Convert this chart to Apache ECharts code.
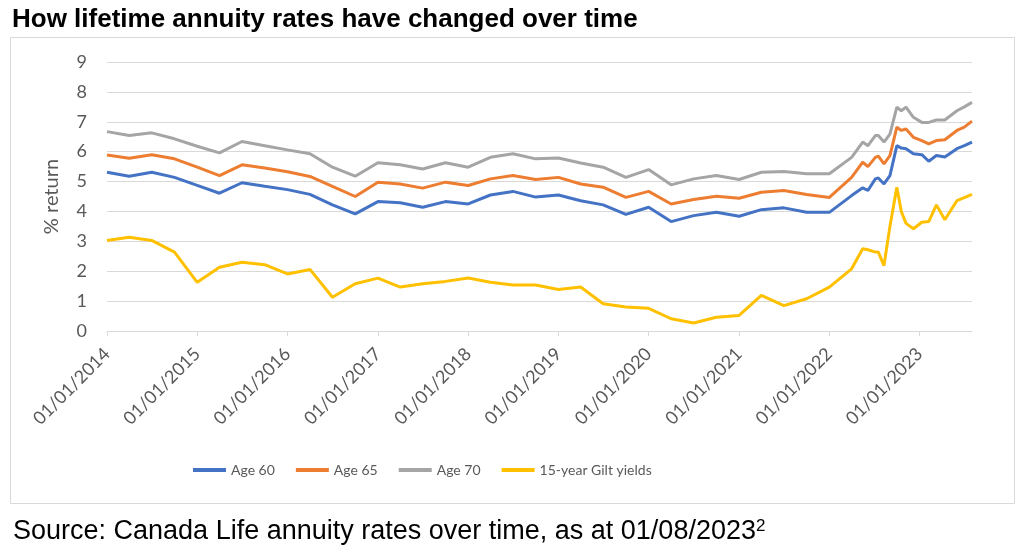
<!DOCTYPE html>
<html lang="en">
<head>
    <meta charset="UTF-8">
    <title>Lifetime annuity rates</title>
    <script type="text/javascript" src="https://cdn.jsdelivr.net/npm/echarts@6/dist/echarts.min.js"></script>
    <style>
        body { margin: 0; background: #fff; }
        #ec { width: 1024px; height: 559px; }
    </style>
</head>
<body>
<div id="ec"></div>
<script>
    // quarterly points to spring 2022, then denser readings
    var dates = [
        '2014-01-01', '2014-04-01', '2014-07-01', '2014-10-01',
        '2015-01-01', '2015-04-01', '2015-07-01', '2015-10-01',
        '2016-01-01', '2016-04-01', '2016-07-01', '2016-10-01',
        '2017-01-01', '2017-04-01', '2017-07-01', '2017-10-01',
        '2018-01-01', '2018-04-01', '2018-07-01', '2018-10-01',
        '2019-01-01', '2019-04-01', '2019-07-01', '2019-10-01',
        '2020-01-01', '2020-04-01', '2020-07-01', '2020-10-01',
        '2021-01-01', '2021-04-01', '2021-07-01', '2021-10-01',
        '2022-01-01', '2022-04-01',
        '2022-05-16', '2022-06-06', '2022-07-06', '2022-07-18', '2022-08-10', '2022-09-03',
        '2022-10-01', '2022-10-19', '2022-11-07', '2022-12-07', '2023-01-10', '2023-02-07',
        '2023-03-10', '2023-04-13', '2023-06-01', '2023-07-01', '2023-08-01'
    ];
    var age60 = [
        5.31, 5.18, 5.31, 5.14, 4.87, 4.61, 4.96, 4.84, 4.73, 4.57, 4.22, 3.92,
        4.33, 4.29, 4.14, 4.33, 4.25, 4.55, 4.67, 4.48, 4.55, 4.36, 4.22, 3.90,
        4.14, 3.66, 3.86, 3.97, 3.84, 4.06, 4.12, 3.97, 3.97, 4.53,
        4.79, 4.70, 5.09, 5.12, 4.92, 5.20, 6.20, 6.12, 6.10, 5.93, 5.90, 5.68,
        5.87, 5.82, 6.10, 6.20, 6.32
    ];
    var age65 = [
        5.89, 5.78, 5.90, 5.76, 5.48, 5.20, 5.56, 5.45, 5.33, 5.17, 4.84, 4.50,
        4.98, 4.92, 4.78, 4.98, 4.87, 5.09, 5.20, 5.07, 5.14, 4.92, 4.81, 4.47,
        4.67, 4.25, 4.40, 4.51, 4.44, 4.64, 4.70, 4.57, 4.47, 5.14,
        5.65, 5.50, 5.81, 5.85, 5.59, 5.87, 6.82, 6.71, 6.76, 6.48, 6.37, 6.26,
        6.37, 6.40, 6.71, 6.82, 7.02
    ];
    var age70 = [
        6.67, 6.54, 6.63, 6.43, 6.18, 5.96, 6.34, 6.20, 6.06, 5.93, 5.48, 5.18,
        5.63, 5.56, 5.42, 5.63, 5.48, 5.81, 5.93, 5.76, 5.79, 5.62, 5.48, 5.14,
        5.40, 4.89, 5.09, 5.20, 5.07, 5.31, 5.34, 5.26, 5.26, 5.81,
        6.32, 6.20, 6.54, 6.54, 6.32, 6.59, 7.49, 7.37, 7.49, 7.15, 6.98, 6.98,
        7.06, 7.06, 7.37, 7.50, 7.65
    ];
    var gilt = [
        3.03, 3.14, 3.03, 2.64, 1.63, 2.13, 2.30, 2.22, 1.91, 2.06, 1.13, 1.58,
        1.77, 1.47, 1.58, 1.66, 1.77, 1.63, 1.54, 1.54, 1.39, 1.47, 0.91, 0.80,
        0.76, 0.41, 0.27, 0.46, 0.52, 1.19, 0.85, 1.08, 1.47, 2.08,
        2.75, 2.72, 2.64, 2.64, 2.19, 3.50, 4.81, 4.00, 3.60, 3.42, 3.64, 3.66,
        4.22, 3.72, 4.36, 4.46, 4.57
    ];
    var names = ['Age 60', 'Age 65', 'Age 70', '15-year Gilt yields'];
    var colors = ['#4472C4', '#ED7D31', '#A5A5A5', '#FFC000'];

    function pairs(vals) {
        return dates.map(function (d, i) { return [d, vals[i]]; });
    }

    var YEAR = 365 * 24 * 3600 * 1000;
    var myChart = echarts.init(document.getElementById('ec'));
    myChart.setOption({
        animation: false,
        color: colors,
        title: [
            {
                text: 'How lifetime annuity rates have changed over time',
                left: 7,
                top: 2,
                textStyle: {
                    fontFamily: 'Liberation Sans',
                    fontWeight: 'bold',
                    fontSize: 26,
                    color: '#000'
                }
            },
            {
                text: '{a|Source: Canada Life annuity rates over time, as at 01/08/2023}{s|2}',
                left: 8,
                top: 513,
                textStyle: {
                    fontWeight: 'normal',
                    rich: {
                        a: {fontFamily: 'Liberation Sans', fontWeight: 'normal', fontSize: 27, color: '#000'},
                        s: {fontFamily: 'Liberation Sans', fontWeight: 'normal', fontSize: 17, color: '#000', verticalAlign: 'top'}
                    }
                }
            }
        ],
        graphic: [{
            type: 'rect',
            shape: {x: 10.5, y: 37.5, width: 1004, height: 466},
            style: {fill: 'none', stroke: '#D9D9D9', lineWidth: 1},
            silent: true
        }],
        legend: {
            left: 188,
            top: 458,
            icon: 'rect',
            itemWidth: 33,
            itemHeight: 4,
            itemGap: 21,
            data: names,
            textStyle: {fontFamily: 'Lato', fontSize: 14, color: '#595959'}
        },
        grid: {left: 107, right: 52, top: 62, bottom: 228},
        xAxis: {
            type: 'time',
            min: '2014-01-01',
            max: '2023-08-01',
            minInterval: YEAR,
            maxInterval: YEAR + 2 * 24 * 3600 * 1000,
            axisLine: {lineStyle: {color: '#D9D9D9', width: 1}},
            axisTick: {show: true, length: 5, lineStyle: {color: '#D9D9D9'}},
            splitLine: {show: false},
            axisLabel: {
                rotate: 45,
                margin: 20,
                fontFamily: 'Lato',
                fontSize: 18,
                color: '#595959',
                formatter: function (val) {
                    return '01/01/' + new Date(val).getFullYear();
                }
            }
        },
        yAxis: {
            type: 'value',
            min: 0,
            max: 9,
            interval: 1,
            name: '% return',
            nameLocation: 'middle',
            nameGap: 45,
            nameTextStyle: {fontFamily: 'Lato', fontSize: 20, color: '#595959'},
            axisLine: {show: false},
            axisTick: {show: false},
            splitLine: {lineStyle: {color: '#D9D9D9', width: 1}},
            axisLabel: {margin: 20, fontFamily: 'Lato', fontSize: 18, color: '#595959'}
        },
        series: [
            {name: names[0], type: 'line', data: pairs(age60), symbol: 'none', lineStyle: {width: 3}},
            {name: names[1], type: 'line', data: pairs(age65), symbol: 'none', lineStyle: {width: 3}},
            {name: names[2], type: 'line', data: pairs(age70), symbol: 'none', lineStyle: {width: 3}},
            {name: names[3], type: 'line', data: pairs(gilt), symbol: 'none', lineStyle: {width: 3}}
        ]
    });
</script>
</body>
</html>
